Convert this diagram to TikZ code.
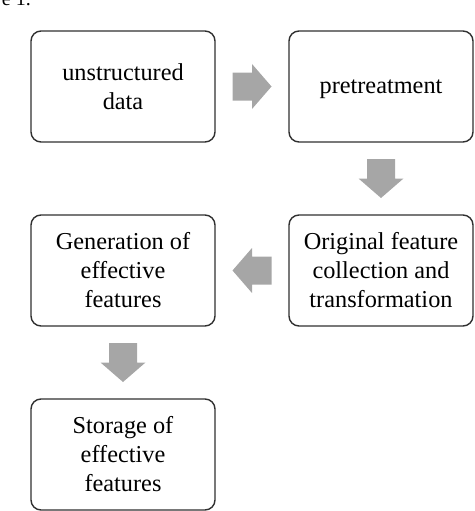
\documentclass[tikz,border=0pt]{standalone}
\usepackage{fontspec}
\setmainfont{Liberation Serif}
\usetikzlibrary{calc}
\definecolor{arrowgray}{HTML}{A6A6A6}
\definecolor{boxline}{HTML}{303030}
\tikzset{
  stepbox/.style={draw=boxline, line width=1.4pt, rounded corners=10pt, fill=white,
    minimum width=184pt, minimum height=111pt, inner sep=0pt, align=center,
    font=\fontsize{24.3pt}{29pt}\selectfont},
  pics/blockarrow/.style={code={
    \fill[arrowgray] (-19.5,-14) -- (0,-14) -- (0,-22.5) -- (19.5,0) -- (0,22.5) -- (0,14) -- (-19.5,14) -- cycle;
  }}
}
\begin{document}
\begin{tikzpicture}[x=1pt,y=-1pt]
\useasboundingbox (0,0) rectangle (474,511);
\node[anchor=base east, inner sep=0pt, font=\fontsize{20pt}{24pt}\selectfont] (cap) at (31,6) {e 1.};
\node[stepbox] (b1) at (123,86.5) {unstructured\\data};
\node[stepbox, text depth=0pt] (b2) at (381,86.5) {pretreatment};
\node[stepbox] (b3) at (381,270.5) {Original feature\\collection and\\transformation};
\node[stepbox] (b4) at (123,270.5) {Generation of\\effective\\features};
\node[stepbox] (b5) at (123,454.5) {Storage of\\effective\\features};
\pic at ($(b1.east)!0.5!(b2.west)$) {blockarrow};
\pic[rotate=-90] at ($(b2.south)!0.5!(b3.north)$) {blockarrow};
\pic[rotate=180] at ($(b3.west)!0.5!(b4.east)$) {blockarrow};
\pic[rotate=-90] at ($(b4.south)!0.5!(b5.north)$) {blockarrow};
\end{tikzpicture}
\end{document}
